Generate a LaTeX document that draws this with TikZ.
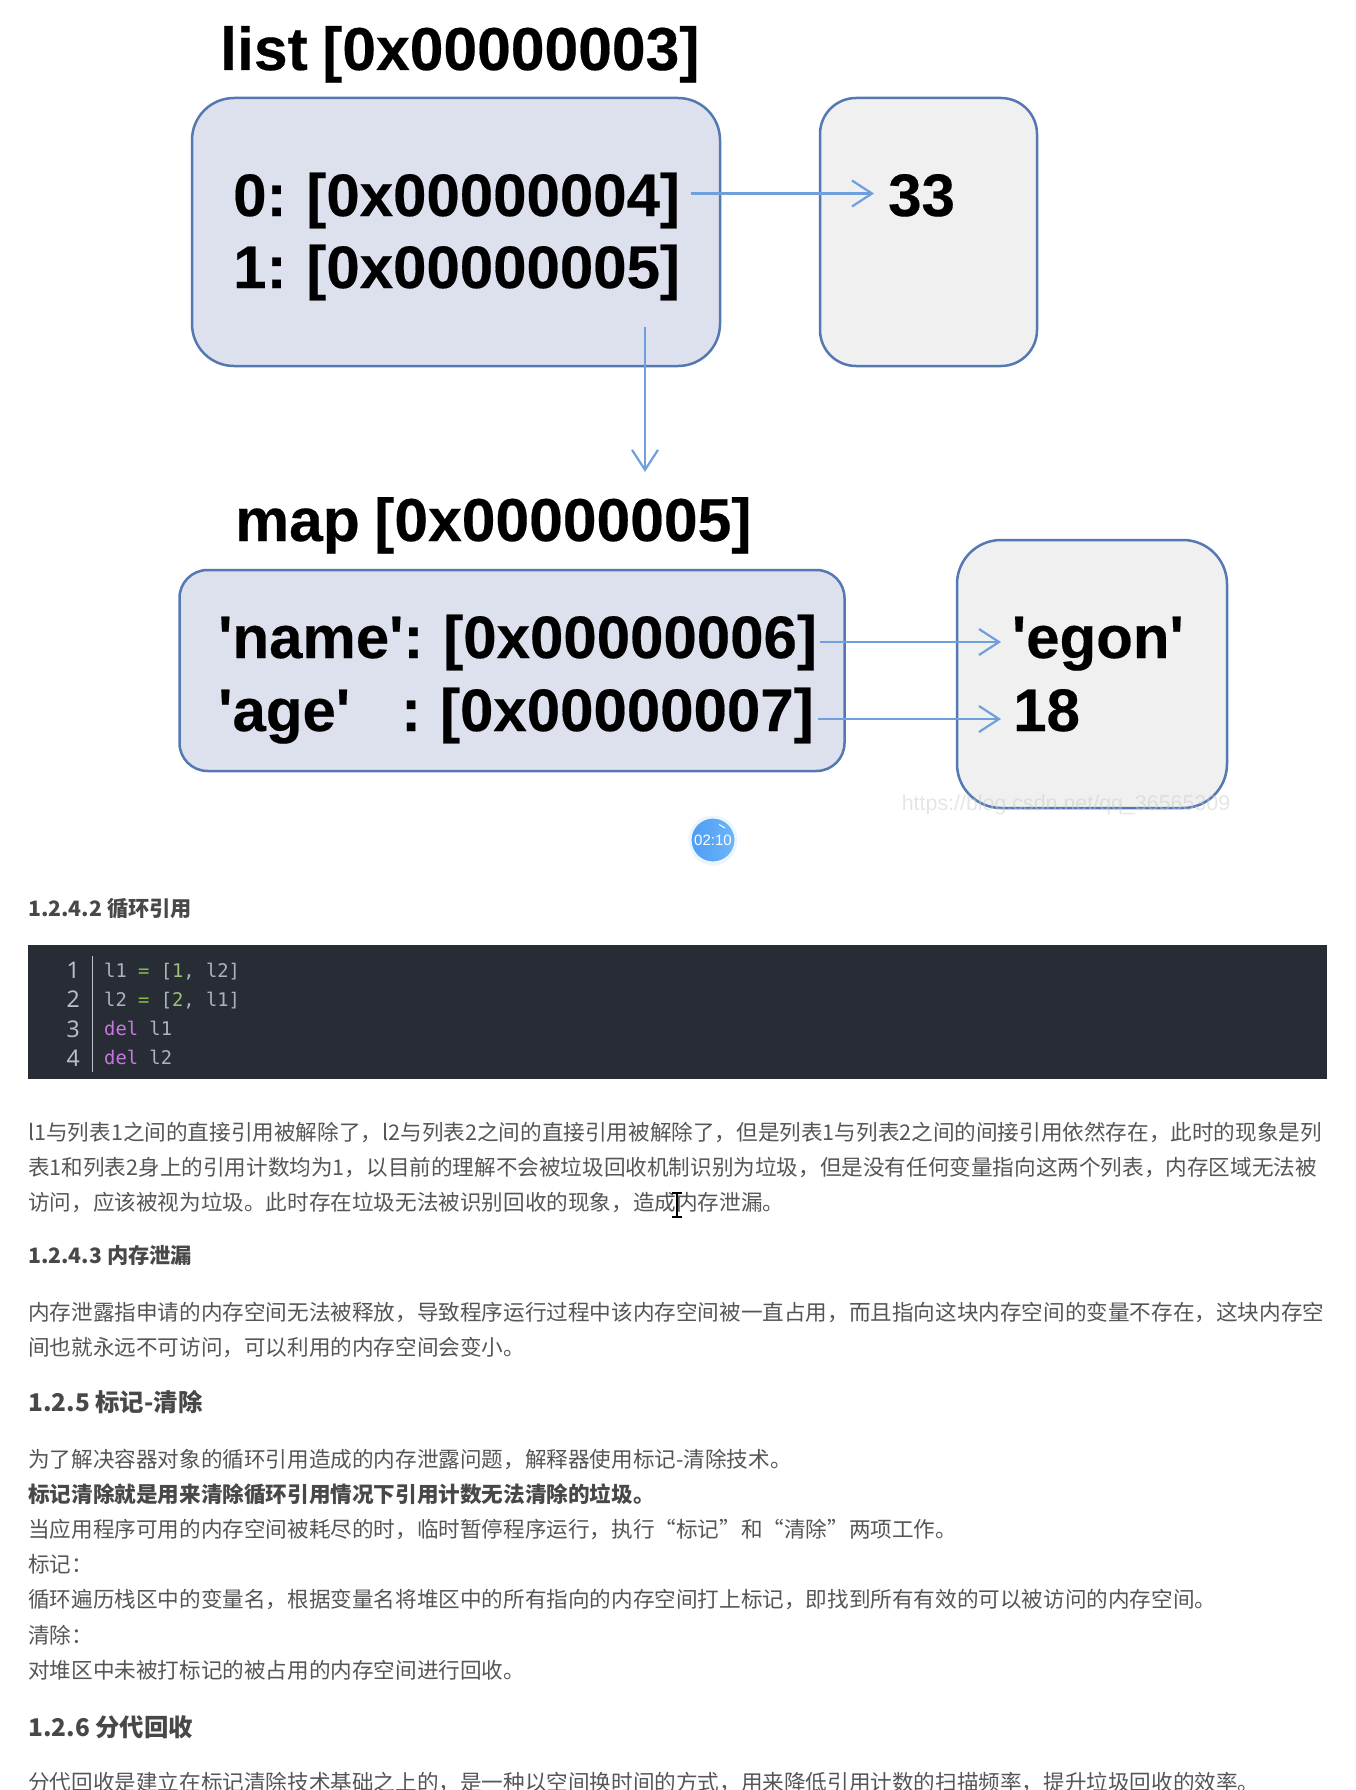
\documentclass[tikz,border=0pt]{standalone}
\usepackage{fontspec}
\usepackage{xcolor}
\usetikzlibrary{arrows.meta,shadows}
\newfontfamily\slidefont[WordSpace=0.86,BoldFeatures={FakeBold=0.3}]{Liberation Sans}
\newfontfamily\markfont{Liberation Sans}
\newfontfamily\cjkfont{Noto Sans CJK SC}
\newfontfamily\codefont{DejaVu Sans Mono}
\newfontfamily\gutterfont{Noto Sans}
\definecolor{heapfill}{HTML}{DDE1EE}
\definecolor{valfill}{HTML}{F0F0F0}
\definecolor{boxline}{HTML}{5378B2}
\definecolor{refblue}{HTML}{6F9FDC}
\definecolor{pagetext}{HTML}{555555}
\definecolor{headtext}{HTML}{484848}
\definecolor{codebg}{HTML}{282C34}
\definecolor{codetext}{HTML}{ABB2BF}
\definecolor{codeop}{HTML}{86B84C}
\definecolor{codenum}{HTML}{98C379}
\definecolor{codekw}{HTML}{C678DD}
\definecolor{timerdark}{HTML}{4F9CF2}
\definecolor{timerlight}{HTML}{6CB6FA}
\definecolor{timerring}{HTML}{EAF6FC}
\newcommand{\op}[1]{\textcolor{codeop}{#1}}
\newcommand{\num}[1]{\textcolor{codenum}{#1}}
\newcommand{\kw}[1]{\textcolor{codekw}{#1}}
\newcommand{\zc}{^^^^ff0c}
\newcommand{\zd}{^^^^ff1a}
\tikzset{refedge/.style = {-{Straight Barb[length=20pt,width=26pt]}, refblue, line width=2.2pt}}
\tikzset{heapbox/.style = {draw=boxline, line width=2.5pt, fill=heapfill, inner sep=0pt}}
\tikzset{valbox/.style = {draw=boxline, line width=2.5pt, fill=valfill, inner sep=0pt}}
\tikzset{slidetext/.style = {anchor=base west, inner ysep=0pt, inner xsep=0pt, text=black, font=\slidefont\bfseries\fontsize{60}{60}\selectfont}}
\tikzset{slidetitle/.style = {slidetext, font=\slidefont\bfseries\fontsize{60.6}{60}\selectfont}}
\tikzset{para/.style = {anchor=base west, inner sep=0pt, text=pagetext, font=\cjkfont\fontsize{21.6}{26}\selectfont}}
\tikzset{subhead/.style = {para, text=headtext, font=\cjkfont\bfseries\fontsize{21.2}{26}\selectfont}}
\tikzset{mainhead/.style = {para, text=headtext, font=\cjkfont\bfseries\fontsize{24.4}{30}\selectfont}}
\tikzset{codeline/.style = {anchor=base west, inner sep=0pt, text=codetext, font=\codefont\fontsize{18.8}{22}\selectfont}}
\tikzset{gutter/.style = {anchor=base east, inner sep=0pt, text=codetext!85!white, font=\gutterfont\fontsize{23}{26}\selectfont}}
\begin{document}
\begin{tikzpicture}[x=1pt,y=-1pt]
    \useasboundingbox (0,0) rectangle (1356,1790);

    % Boxes of the two heap objects
    \node[heapbox, rounded corners=42pt, minimum width=528pt, minimum height=268pt] (listbox) at (456,232) {};
    \node[valbox, rounded corners=36pt, minimum width=217pt, minimum height=268pt] (numbox) at (928.5,232) {};
    \node[heapbox, rounded corners=28pt, minimum width=665pt, minimum height=201pt] (mapbox) at (512,670.5) {};
    \node[valbox, rounded corners=44pt, minimum width=270pt, minimum height=268pt] (strbox) at (1092,674) {};

    % Texts of the list
    \node[slidetitle] (listtitle) at (220,70) {list [0x00000003]};
    \node[slidetext, text depth=0pt, text height=45pt, inner xsep=11pt] (slotzero) at (222,216) {0: [0x00000004]};
    \node[slidetext, inner xsep=11pt] (slotone) at (222,288) {1: [0x00000005]};
    \node[slidetext, text depth=0pt, text height=45pt, inner xsep=14pt] (numval) at (874,216) {33};

    % Texts of the map
    \node[slidetitle, inner ysep=25pt] (maptitle) at (235,541) {map [0x00000005]};
    \node[slidetext, text depth=0pt, text height=32pt, inner xsep=3pt] (slotname) at (215,658) {'name': [0x00000006]};
    \node[slidetext, text depth=0pt, text height=24pt, inner xsep=4pt] (slotage) at (214,731) {'age'\hspace{51pt}:\hspace{19pt}[0x00000007]};
    \node[slidetext, text depth=0pt, text height=32pt, inner xsep=10.7pt] (strval) at (1001,658) {'egon'};
    \node[slidetext, text depth=0pt, text height=24pt, inner xsep=12pt] (ageval) at (1001,731) {18};

    % Arrow from slot 0 to 33
    \draw [refedge] (slotzero.east) -- (numval.west);

    % Arrow from slot 1 down to the map
    \coordinate (listout) at (645,327);
    \draw [refedge] (listout) -- (listout |- maptitle.north);

    % Arrow from 'name' to 'egon'
    \draw [refedge] (slotname.east) -- (strval.west);

    % Arrow from 'age' to 18
    \draw [refedge] (slotage.east) -- (ageval.west);

    % Watermark over the last box
    \node[anchor=center, inner sep=0pt, text=gray!40, opacity=.5, font=\markfont\fontsize{21.4}{24}\selectfont] (mark) at (1066,805) {https://blog.csdn.net/qq\_36565309};

    % Player timer
    \node[circle, minimum size=46pt, inner sep=0pt, draw=timerring, line width=3pt, shade, shading angle=45, left color=timerdark, right color=timerlight, circular drop shadow={shadow xshift=0pt, shadow yshift=-2pt, shadow scale=1.05, opacity=.12}, text=white, font=\markfont\fontsize{15}{15}\selectfont] (timer) at (713,840) {02:10};
    \draw [white, line width=1pt] (719,824.5) -- (725,828);

    % Heading of the code block
    \node[subhead] (headcycle) at (28,916) {1.2.4.2 循环引用};

    % Code block
    \node[fill=codebg, inner sep=0pt, minimum width=1299pt, minimum height=134pt] (codeblock) at (677.5,1012) {};
    \draw [codetext!80!white, line width=1pt] (92.5,956) -- (92.5,1072);
    \node[gutter] (gutterone) at (80,978) {1};
    \node[gutter] (guttertwo) at (80,1007) {2};
    \node[gutter] (gutterthree) at (80,1037) {3};
    \node[gutter] (gutterfour) at (80,1066) {4};
    \node[codeline] (codeone) at (104,977) {l1 \op{=} [\num{1}, l2]};
    \node[codeline] (codetwo) at (104,1006) {l2 \op{=} [\num{2}, l1]};
    \node[codeline] (codethree) at (104,1035) {\kw{del} l1};
    \node[codeline] (codefour) at (104,1064) {\kw{del} l2};

    % Page text
    \node[para] (lineone) at (28,1140) {l1与列表1之间的直接引用被解除了\zc l2与列表2之间的直接引用被解除了\zc 但是列表1与列表2之间的间接引用依然存在\zc 此时的现象是列};
    \node[para] (linetwo) at (28,1175) {表1和列表2身上的引用计数均为1\zc 以目前的理解不会被垃圾回收机制识别为垃圾\zc 但是没有任何变量指向这两个列表\zc 内存区域无法被};
    \node[para] (linethree) at (28,1210) {访问\zc 应该被视为垃圾。此时存在垃圾无法被识别回收的现象\zc 造成内存泄漏。};
    \node[subhead] (headleak) at (28,1263) {1.2.4.3 内存泄漏};
    \node[para] (linefour) at (28,1320) {内存泄露指申请的内存空间无法被释放\zc 导致程序运行过程中该内存空间被一直占用\zc 而且指向这块内存空间的变量不存在\zc 这块内存空};
    \node[para] (linefive) at (28,1355) {间也就永远不可访问\zc 可以利用的内存空间会变小。};
    \node[mainhead] (headmark) at (28,1411) {1.2.5 标记-清除};
    \node[para] (linesix) at (28,1467) {为了解决容器对象的循环引用造成的内存泄露问题\zc 解释器使用标记-清除技术。};
    \node[para, font=\cjkfont\bfseries\fontsize{21.6}{26}\selectfont, text=headtext] (lineseven) at (28,1502) {标记清除就是用来清除循环引用情况下引用计数无法清除的垃圾。};
    \node[para] (lineeight) at (28,1537) {当应用程序可用的内存空间被耗尽的时\zc 临时暂停程序运行\zc 执行“标记”和“清除”两项工作。};
    \node[para] (linenine) at (28,1572) {标记\zd};
    \node[para] (lineten) at (28,1607) {循环遍历栈区中的变量名\zc 根据变量名将堆区中的所有指向的内存空间打上标记\zc 即找到所有有效的可以被访问的内存空间。};
    \node[para] (lineeleven) at (28,1643) {清除\zd};
    \node[para] (linetwelve) at (28,1678) {对堆区中未被打标记的被占用的内存空间进行回收。};
    \node[mainhead] (headgen) at (28,1736) {1.2.6 分代回收};
    \node[para] (linethirteen) at (28,1790) {分代回收是建立在标记清除技术基础之上的\zc 是一种以空间换时间的方式\zc 用来降低引用计数的扫描频率\zc 提升垃圾回收的效率。};

    % Mouse cursor
    \draw [black, line width=1.5pt] (677,1193) -- (677,1217);
    \draw [black, line width=1.5pt] (672,1193) -- (682,1193);
    \draw [black, line width=1.5pt] (672,1217) -- (682,1217);
\end{tikzpicture}
\end{document}
